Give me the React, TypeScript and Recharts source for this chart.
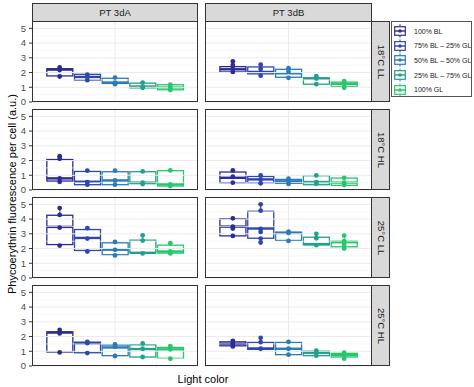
import React from "react";
import { Bar, ComposedChart, ReferenceLine, Scatter, XAxis, YAxis } from "recharts";

const SERIES = ["100% BL", "75% BL – 25% GL", "50% BL – 50% GL", "25% BL – 75% GL", "100% GL"];
const COLORS = ["#2b2c93", "#2d47ad", "#2a7bb8", "#22a08b", "#27c56d"];
const STRAINS = ["PT 3dA", "PT 3dB"];
const CONDITIONS = ["18°C LL", "18°C HL", "25°C LL", "25°C HL"];
const Y_TICKS = [0, 1, 2, 3, 4, 5];
const Y_MINOR = [0.5, 1.5, 2.5, 3.5, 4.5, 5.5];

// box stats per light colour: [lower hinge, median, upper hinge]
const A_18LL_BOX = [[1.77, 2.2, 2.26], [1.48, 1.7, 1.88], [1.26, 1.32, 1.61], [0.96, 1.05, 1.28], [0.83, 0.99, 1.17]];
const A_18LL_PTS = [[2.35, 2.17, 1.73], [1.86, 1.7, 1.48], [1.66, 1.32, 1.21], [1.32, 1.05, 0.96], [1.17, 0.99, 0.81]];
const A_18HL_BOX = [[0.61, 0.79, 2.07], [0.36, 0.56, 1.26], [0.36, 0.65, 1.24], [0.43, 0.5, 1.24], [0.27, 0.38, 1.31]];
const A_18HL_PTS = [[2.3, 2.12, 0.79, 0.56], [1.31, 0.54, 0.36], [1.31, 0.65, 0.36], [1.26, 0.5, 0.4], [1.33, 0.38, 0.27]];
const A_25LL_BOX = [[2.27, 3.47, 4.26], [1.87, 2.72, 3.29], [1.58, 1.92, 2.39], [1.71, 1.71, 2.57], [1.69, 1.8, 2.23]];
const A_25LL_PTS = [[4.75, 4.28, 3.42, 2.2], [3.38, 2.68, 1.8], [2.45, 1.91, 1.53], [2.9, 2.54, 1.67], [2.36, 1.8, 1.67]];
const A_25HL_BOX = [[0.95, 2.27, 2.32], [0.9, 1.55, 1.62], [0.7, 1.26, 1.42], [0.61, 1.15, 1.44], [0.52, 1.13, 1.26]];
const A_25HL_PTS = [[2.45, 2.21, 0.92], [1.64, 1.55, 0.88], [1.46, 1.31, 0.68], [1.53, 1.17, 0.61], [1.35, 1.13, 0.5]];

const B_18LL_BOX = [[2.04, 2.22, 2.4], [1.91, 2.04, 2.38], [1.68, 1.95, 2.22], [1.21, 1.59, 1.64], [1.05, 1.23, 1.35]];
const B_18LL_PTS = [[2.76, 2.51, 2.26, 2.04], [2.53, 2.24, 1.79], [2.29, 2.06, 1.64], [1.75, 1.59, 1.21], [1.41, 1.19, 0.96]];
const B_18HL_BOX = [[0.5, 0.83, 1.22], [0.5, 0.72, 0.92], [0.45, 0.59, 0.72], [0.36, 0.54, 0.97], [0.32, 0.5, 0.81]];
const B_18HL_PTS = [[1.33, 0.9, 0.5], [0.99, 0.72, 0.45], [0.77, 0.59, 0.41], [0.99, 0.54, 0.43], [0.83, 0.5, 0.34]];
const B_25LL_BOX = [[2.86, 3.49, 4.03], [2.7, 3.36, 4.53], [2.55, 3.06, 3.11], [2.25, 2.3, 2.77], [2.12, 2.43, 2.5]];
const B_25LL_PTS = [[4.05, 3.49, 3.36, 2.86], [5.0, 4.57, 3.33, 3.13, 2.68, 2.41], [3.15, 3.06, 2.52], [3.0, 2.7, 2.23], [2.88, 2.5, 2.25, 2.0]];
const B_25HL_BOX = [[1.37, 1.51, 1.64], [1.13, 1.19, 1.6], [0.77, 1.17, 1.6], [0.7, 0.9, 1.01], [0.61, 0.74, 0.86]];
const B_25HL_PTS = [[1.71, 1.51, 1.33], [1.91, 1.62, 1.17], [1.64, 1.17, 0.77], [1.04, 0.9, 0.7], [0.9, 0.74, 0.5]];

const PANELS = [
  [[A_18LL_BOX, A_18LL_PTS], [B_18LL_BOX, B_18LL_PTS]],
  [[A_18HL_BOX, A_18HL_PTS], [B_18HL_BOX, B_18HL_PTS]],
  [[A_25LL_BOX, A_25LL_PTS], [B_25LL_BOX, B_25LL_PTS]],
  [[A_25HL_BOX, A_25HL_PTS], [B_25HL_BOX, B_25HL_PTS]],
];

const COL_LEFT = [32, 205];
const COL_W = [166, 167];
const ROW_TOP = [21, 109, 197, 285];
const PANEL_H = 81;
const AXIS_W = 30;
const PAD = 5;
const BORDER = "#333333";
const FONT = "'Liberation Sans', Arial, Helvetica, sans-serif";

const BoxShape = (props: any) => {
  const { x, y, width, height, payload, index } = props;
  const top = Math.min(y, y + height);
  const h = Math.abs(height);
  const { lo, hi, q1, med, q3 } = payload;
  const py = (v: number) => top + ((hi - v) / (hi - lo)) * h;
  const cx = x + width / 2;
  const c = COLORS[index];
  return (
    <g>
      <line x1={cx} x2={cx} y1={top} y2={top + h} stroke={c} strokeWidth={1.2} />
      <rect x={x} y={py(q3)} width={width} height={Math.max(py(q1) - py(q3), 0.5)} fill="#fff" stroke={c} strokeWidth={1.3} />
      <line x1={x} x2={x + width} y1={py(med)} y2={py(med)} stroke={c} strokeWidth={2.4} />
    </g>
  );
};

const Dot = (props: any) => <circle cx={props.cx} cy={props.cy} r={2.4} fill={props.fill} />;

function Panel({ box, pts, col, row }: { box: number[][]; pts: number[][]; col: number; row: number }) {
  const rows = box.map(([q1, med, q3], i) => ({
    x: i + 1,
    q1,
    med,
    q3,
    lo: Math.min(...pts[i]),
    hi: Math.max(...pts[i]),
  }));
  const axisW = col === 0 ? AXIS_W : 0;
  const bottom = row === 3;
  const w = COL_W[col] + axisW;
  return (
    <div style={{ position: "absolute", left: COL_LEFT[col] - axisW, top: ROW_TOP[row] - PAD }}>
      <ComposedChart
        width={w}
        height={PANEL_H + PAD * 2}
        data={rows}
        margin={{ top: PAD, right: 0, bottom: bottom ? 0 : PAD, left: 0 }}
      >
        <XAxis
          type="number"
          dataKey="x"
          domain={[0, 6]}
          ticks={[3]}
          hide={!bottom}
          height={PAD}
          tick={false}
          tickSize={3}
          axisLine={false}
          tickLine={{ stroke: BORDER }}
        />
        <YAxis
          type="number"
          dataKey="y"
          domain={[0, 5.5]}
          ticks={Y_TICKS}
          interval={0}
          hide={col !== 0}
          width={AXIS_W}
          tickSize={3}
          tickMargin={3}
          axisLine={false}
          tickLine={{ stroke: BORDER }}
          tick={{ fontSize: 9.5, fill: "#4d4d4d", fontFamily: FONT }}
        />
        {Y_MINOR.map((v) => (
          <ReferenceLine key={"m" + v} y={v} stroke="#f3f3f3" strokeWidth={0.7} />
        ))}
        {Y_TICKS.map((v) => (
          <ReferenceLine key={"M" + v} y={v} stroke="#ebebeb" strokeWidth={1} />
        ))}
        <ReferenceLine x={3} stroke="#ebebeb" strokeWidth={1} />
        <Bar dataKey={(d: any) => [d.lo, d.hi]} barSize={26} shape={<BoxShape />} isAnimationActive={false} />
        {SERIES.map((s, i) => (
          <Scatter
            key={s}
            data={pts[i].map((y) => ({ x: i + 1, y }))}
            fill={COLORS[i]}
            shape={<Dot />}
            isAnimationActive={false}
          />
        ))}
      </ComposedChart>
    </div>
  );
}

function LegendKey({ color }: { color: string }) {
  return (
    <svg width={12} height={14} style={{ display: "block", flexShrink: 0 }}>
      <line x1={6} x2={6} y1={0.5} y2={13.5} stroke={color} strokeWidth={1.1} />
      <rect x={0.7} y={2.7} width={10.6} height={8.6} fill="#fff" stroke={color} strokeWidth={1.2} />
      <line x1={0.7} x2={11.3} y1={7} y2={7} stroke={color} strokeWidth={1.4} />
      <circle cx={6} cy={7} r={1.8} fill={color} />
    </svg>
  );
}

export default function App() {
  return (
    <div
      style={{
        position: "fixed",
        left: 0,
        top: 0,
        width: 474,
        height: 387,
        background: "#fff",
        fontFamily: FONT,
        overflow: "hidden",
      }}
    >
      {PANELS.map((r, ri) => r.map(([box, pts], ci) => <Panel key={ri + "-" + ci} box={box} pts={pts} col={ci} row={ri} />))}

      {/* panel frames */}
      {ROW_TOP.map((t) =>
        COL_LEFT.map((l, ci) => (
          <div
            key={t + "-" + l}
            style={{
              position: "absolute",
              left: l,
              top: t,
              width: COL_W[ci],
              height: PANEL_H,
              border: `1px solid ${BORDER}`,
              boxSizing: "border-box",
              pointerEvents: "none",
            }}
          />
        ))
      )}

      {/* column strips */}
      {STRAINS.map((s, ci) => (
        <div
          key={s}
          style={{
            position: "absolute",
            left: COL_LEFT[ci],
            top: 3,
            width: COL_W[ci],
            height: 19,
            background: "#d9d9d9",
            border: `1px solid ${BORDER}`,
            boxSizing: "border-box",
            display: "flex",
            alignItems: "center",
            justifyContent: "center",
            fontSize: 9.5,
            color: "#1a1a1a",
          }}
        >
          {s}
        </div>
      ))}

      {/* row strips */}
      {CONDITIONS.map((c, ri) => (
        <div
          key={c}
          style={{
            position: "absolute",
            left: 371,
            top: ROW_TOP[ri],
            width: 19,
            height: PANEL_H,
            background: "#d9d9d9",
            border: `1px solid ${BORDER}`,
            boxSizing: "border-box",
          }}
        >
          <div
            style={{
              position: "absolute",
              left: "50%",
              top: "50%",
              transform: "translate(-50%, -50%) rotate(90deg)",
              whiteSpace: "nowrap",
              fontSize: 9.5,
              color: "#1a1a1a",
            }}
          >
            {c}
          </div>
        </div>
      ))}

      {/* legend */}
      <div
        style={{
          position: "absolute",
          left: 391,
          top: 21,
          width: 81,
          height: 76,
          border: "1px solid #555",
          boxSizing: "border-box",
          padding: "2px 0 0 2px",
        }}
      >
        {SERIES.map((s, i) => (
          <div key={s} style={{ display: "flex", alignItems: "center", height: 14.6 }}>
            <LegendKey color={COLORS[i]} />
            <span style={{ marginLeft: 8, fontSize: 7, color: "#1a1a1a", whiteSpace: "nowrap" }}>{s}</span>
          </div>
        ))}
      </div>

      {/* axis titles */}
      <div
        style={{
          position: "absolute",
          left: 12,
          top: 194,
          transform: "translate(-50%, -50%) rotate(-90deg)",
          whiteSpace: "nowrap",
          fontSize: 11,
          color: "#000",
        }}
      >
        Phycoerythrin fluorescence per cell (a.u.)
      </div>
      <div
        style={{
          position: "absolute",
          left: 203,
          top: 379,
          transform: "translate(-50%, -50%)",
          whiteSpace: "nowrap",
          fontSize: 11,
          color: "#000",
        }}
      >
        Light color
      </div>
    </div>
  );
}
